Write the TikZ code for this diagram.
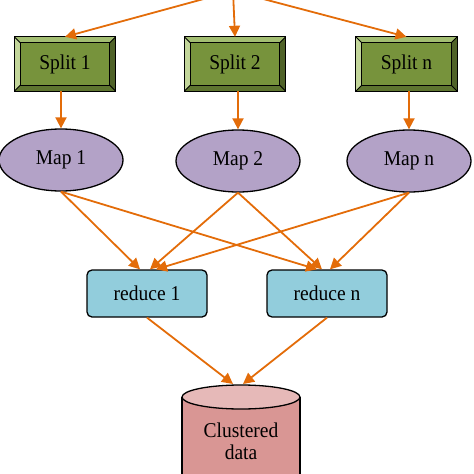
\documentclass[tikz,border=0pt]{standalone}
\usepackage{fontspec}
\setmainfont{Liberation Serif}
\usetikzlibrary{calc,arrows.meta,shapes.geometric}
\definecolor{arr}{HTML}{E36C09}
\definecolor{olivemain}{HTML}{77933C}
\definecolor{olivetop}{HTML}{A3BE72}
\definecolor{oliveleft}{HTML}{C3D69B}
\definecolor{olivedark}{HTML}{4F6228}
\definecolor{olivebot}{HTML}{5E7530}
\definecolor{mapfill}{HTML}{B3A2C7}
\definecolor{redfill}{HTML}{92CDDC}
\definecolor{cylbody}{HTML}{D99694}
\definecolor{cyltop}{HTML}{E6B9B8}
\newcommand\tx[1]{\scalebox{1}[1.08]{#1}}
\newcommand\bevelbox[1]{%
  \fill[olivetop] (#1.north west) -- (#1.north east) -- ($(#1.north east)+(-6,6)$) -- ($(#1.north west)+(6,6)$) -- cycle;
  \fill[oliveleft] (#1.north west) -- ($(#1.north west)+(6,6)$) -- ($(#1.south west)+(6,-6)$) -- (#1.south west) -- cycle;
  \fill[olivedark] (#1.north east) -- ($(#1.north east)+(-6,6)$) -- ($(#1.south east)+(-6,-6)$) -- (#1.south east) -- cycle;
  \fill[olivebot] (#1.south west) -- ($(#1.south west)+(6,-6)$) -- ($(#1.south east)+(-6,-6)$) -- (#1.south east) -- cycle;
  \draw[line width=1pt] ($(#1.north west)+(6,6)$) rectangle ($(#1.south east)+(-6,-6)$);
  \draw[line width=0.8pt] (#1.north west) -- ($(#1.north west)+(6,6)$)
    (#1.north east) -- ($(#1.north east)+(-6,6)$)
    (#1.south west) -- ($(#1.south west)+(6,-6)$)
    (#1.south east) -- ($(#1.south east)+(-6,-6)$);
  \draw[line width=1.3pt] (#1.north west) rectangle (#1.south east);
}
\tikzset{
  every node/.style={font=\fontsize{19.5}{22}\selectfont, text=black},
  splitbox/.style={fill=olivemain, minimum width=101pt, minimum height=54pt, inner sep=0pt},
  mapnode/.style={ellipse, draw=black, line width=1.3pt, fill=mapfill, minimum width=124pt, minimum height=62pt, inner sep=0pt},
  rednode/.style={rectangle, rounded corners=5pt, draw=black, line width=1.3pt, fill=redfill, minimum width=120pt, minimum height=47pt, inner sep=0pt},
  flow/.style={draw=arr, line width=1.8pt, -{Triangle[length=11pt,width=11pt]}},
}
\begin{document}
\begin{tikzpicture}[x=1pt,y=-1pt]
\useasboundingbox (0,0) rectangle (474,474);
\clip (0,0) rectangle (474,474);
% split boxes
\node[splitbox] (s1) at (65,64) {};
\node[splitbox] (s2) at (235,64) {};
\node[splitbox] (s3) at (406.5,64) {};
\bevelbox{s1}\bevelbox{s2}\bevelbox{s3}
\node at (s1) {\tx{Split 1}};
\node at (s2) {\tx{Split 2}};
\node at (s3) {\tx{Split n}};
% maps
\node[mapnode] (m1) at (61,160) {\tx{Map 1}};
\node[mapnode] (m2) at (238,161) {\tx{Map 2}};
\node[mapnode] (m3) at (409,161) {\tx{Map n}};
% reduces
\node[rednode] (r1) at (147,293.5) {\tx{reduce 1}};
\node[rednode] (r2) at (327,293.5) {\tx{reduce n}};
% cylinder
\fill[cylbody] (182,397) -- (182,490) -- (300,490) -- (300,397) -- cycle;
\draw[line width=1.3pt] (182,397) -- (182,490) (300,397) -- (300,490);
\draw[line width=1.3pt, fill=cyltop] (241,397) ellipse [x radius=59, y radius=12];
\coordinate (cyltop) at (241,385);
\node[align=center, text width=110pt, inner sep=0pt] (cyl) at (241,441) {\baselineskip=22pt \tx{Clustered}\\\tx{data}};
% top arrows
\coordinate (src) at (233,-9);
\draw[flow] (src) -- (s1.north);
\draw[flow] (src) -- (s2.north);
\draw[flow] (src) -- (s3.north);
% split to map
\draw[flow] (s1.south -| m1.north) -- (m1.north);
\draw[flow] (s2.south -| m2.north) -- (m2.north);
\draw[flow] (s3.south -| m3.north) -- (m3.north);
% map to reduce
\draw[flow] (m1.south) -- ($(r1.north)+(-7,0)$);
\draw[flow] (m2.south) -- ($(r1.north)+(3,0)$);
\draw[flow] (m3.south) -- ($(r1.north)+(9,0)$);
\draw[flow] (m1.south) -- ($(r2.north)+(-10,0)$);
\draw[flow] (m2.south) -- ($(r2.north)+(-5,0)$);
\draw[flow] (m3.south) -- ($(r2.north)+(3,0)$);
% reduce to cylinder
\draw[flow] (r1.south) -- ($(cyltop)+(-8,-1)$);
\draw[flow] (r2.south) -- ($(cyltop)+(2,-1)$);
\end{tikzpicture}
\end{document}
